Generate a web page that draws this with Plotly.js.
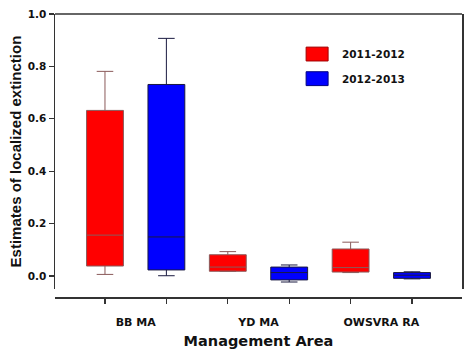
<!DOCTYPE html>
<html>
<head>
<meta charset="utf-8">
<script src="https://cdn.plot.ly/plotly-3.0.1.min.js"></script>
<style>html,body{margin:0;padding:0;background:#fff;}#chart{width:474px;height:363px;}</style>
</head>
<body>
<div id="chart"></div>
<script>
// Categories and box positions
var categories = ["BB MA", "YD MA", "OWSVRA RA"];
var seriesNames = ["2011-2012", "2012-2013"];
var posA = [1, 3, 5];
var posB = [2, 4, 6];
var labelPos = [1.5, 3.5, 5.5];

// 2011-2012 (red)
var lowA = [0.006, 0.018, 0.013];
var q1A = [0.038, 0.018, 0.015];
var medA = [0.156, 0.034, 0.032];
var q3A = [0.632, 0.081, 0.103];
var highA = [0.781, 0.093, 0.129];

// 2012-2013 (blue)
var lowB = [0.001, -0.023, -0.011];
var q1B = [0.023, -0.015, -0.009];
var medB = [0.149, 0.013, 0.003];
var q3B = [0.731, 0.034, 0.013];
var highB = [0.907, 0.042, 0.016];

var yTicks = [0, 0.2, 0.4, 0.6, 0.8, 1.0];

var traces = [
  {type: 'box', name: seriesNames[0], x: posA, q1: q1A, median: medA, q3: q3A,
   lowerfence: lowA, upperfence: highA, width: 0.6, whiskerwidth: 0.45,
   fillcolor: '#ff0000', line: {color: '#8a5a5a', width: 1}, boxpoints: false,
   hoverinfo: 'skip'},
  {type: 'box', name: seriesNames[1], x: posB, q1: q1B, median: medB, q3: q3B,
   lowerfence: lowB, upperfence: highB, width: 0.6, whiskerwidth: 0.45,
   fillcolor: '#0000ff', line: {color: '#1a1a40', width: 1}, boxpoints: false,
   hoverinfo: 'skip'}
];

var axisFont = {family: 'DejaVu Sans', size: 10.5, color: '#111', weight: 'bold'};

var layout = {
  width: 474, height: 363,
  margin: {l: 55, r: 12, t: 14, b: 66},
  paper_bgcolor: '#fff', plot_bgcolor: '#fff',
  showlegend: false,
  boxmode: 'overlay',
  xaxis: {
    range: [0.186, 6.814], anchor: 'free', position: 0,
    showline: true, linecolor: '#333', linewidth: 1.5,
    showgrid: false, zeroline: false,
    tickmode: 'array', tickvals: labelPos, ticktext: categories, ticks: '',
    ticklabelstandoff: 14,
    tickfont: {family: 'DejaVu Sans', size: 11, color: '#111', weight: 'bold'},
    minor: {tickmode: 'array', tickvals: posA.concat(posB), ticks: 'outside', ticklen: 5, tickwidth: 1.2, tickcolor: '#333', showgrid: false},
    title: {text: 'Management Area', standoff: 8,
      font: {family: 'DejaVu Sans', size: 14.5, color: '#111', weight: 'bold'}}
  },
  yaxis: {
    range: [-0.05, 1.0], domain: [0.028, 1],
    showline: true, linecolor: '#333', linewidth: 1.5, mirror: true,
    showgrid: false, zeroline: false,
    tickmode: 'array', tickvals: yTicks, tickformat: '.1f',
    ticks: 'outside', ticklen: 5, tickwidth: 1.2, tickcolor: '#333',
    tickfont: axisFont,
    title: {text: 'Estimates of localized extinction', standoff: 2,
      font: {family: 'Liberation Sans', size: 15, color: '#111', weight: 'bold'}}
  },
  shapes: [
    {type: 'line', xref: 'paper', yref: 'paper', x0: 0, x1: 1, y0: 1, y1: 1,
     line: {color: '#333', width: 1.5}},
    {type: 'rect', xref: 'paper', yref: 'paper', x0: 0.617, x1: 0.671, y0: 0.834, y1: 0.883,
     fillcolor: '#ff0000', line: {color: '#a00000', width: 1}},
    {type: 'rect', xref: 'paper', yref: 'paper', x0: 0.617, x1: 0.671, y0: 0.747, y1: 0.796,
     fillcolor: '#0000ff', line: {color: '#000080', width: 1}}
  ],
  annotations: [
    {xref: 'paper', yref: 'paper', x: 0.700, y: 0.859, xanchor: 'left', yanchor: 'middle',
     text: seriesNames[0], showarrow: false, font: {family: 'DejaVu Sans', size: 10.5, color: '#111', weight: 'bold'}},
    {xref: 'paper', yref: 'paper', x: 0.700, y: 0.772, xanchor: 'left', yanchor: 'middle',
     text: seriesNames[1], showarrow: false, font: {family: 'DejaVu Sans', size: 10.5, color: '#111', weight: 'bold'}}
  ]
};

Plotly.newPlot('chart', traces, layout, {staticPlot: true, displayModeBar: false});
</script>
</body>
</html>
